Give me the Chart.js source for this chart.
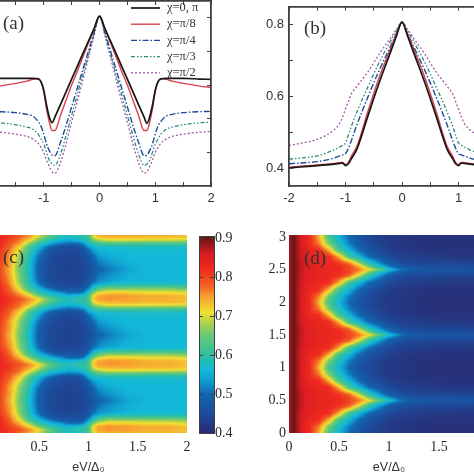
<!DOCTYPE html>
<html>
<head>
<meta charset="utf-8">
<title>Conductance spectra</title>
<script src="https://cdn.jsdelivr.net/npm/chart.js@4"></script>
<style>
  html, body { margin: 0; padding: 0; background: #fff; width: 474px; height: 474px; overflow: hidden; }
  canvas { position: absolute; }
</style>
</head>
<body>
<canvas id="chartA"></canvas>
<canvas id="chartB"></canvas>
<canvas id="chartC"></canvas>
<canvas id="chartBar"></canvas>
<canvas id="chartD"></canvas>
<script>
// Line panels: bias values shared by all curves
const biasA = [-2,-1.8,-1.5,-1.3,-1.2,-1.1,-1.05,-1,-0.95,-0.9,-0.85,-0.8,-0.7,-0.6,-0.5,-0.4,-0.3,-0.2,-0.1,0,
  0.1,0.2,0.3,0.4,0.5,0.6,0.7,0.8,0.85,0.9,0.95,1,1.05,1.1,1.2,1.3,1.5,1.8,2];
const biasB = [-2,-1.8,-1.5,-1.2,-1.1,-1.05,-1,-0.95,-0.9,-0.8,-0.6,-0.4,-0.2,-0.1,0,
  0.1,0.2,0.4,0.6,0.8,0.9,0.95,1,1.05,1.1,1.2,1.5,1.8,2];
const seriesNames = ['χ=0, π', 'χ=π/8', 'χ=π/4', 'χ=π/3', 'χ=π/2'];

// Tick positions
const biasTicks = [-2,-1.5,-1,-0.5,0,0.5,1,1.5,2];
const lineTicksA = [0.4,0.5,0.6,0.7,0.8];
const lineTicksB = [0.4,0.5,0.6,0.7,0.8];
const mapTicksX = [0,0.5,1,1.5,2];
const mapTicksY = [0,0.5,1,1.5,2,2.5,3];
const barTicks = [0.4,0.5,0.6,0.7,0.8,0.9];

const a0 = [0.62,0.62,0.62,0.62,0.62,0.618,0.61,0.585,0.54,0.505,0.488,0.505,0.542,0.58,0.618,0.655,0.693,0.73,0.767,0.805,
  0.767,0.73,0.693,0.655,0.618,0.58,0.542,0.505,0.486,0.505,0.54,0.585,0.61,0.618,0.62,0.62,0.62,0.618,0.617];
const a8 = [0.593,0.597,0.605,0.612,0.617,0.62,0.61,0.58,0.53,0.49,0.465,0.465,0.51,0.555,0.6,0.64,0.683,0.725,0.765,0.805,
  0.765,0.725,0.683,0.64,0.6,0.555,0.51,0.465,0.465,0.49,0.53,0.58,0.61,0.62,0.617,0.612,0.605,0.597,0.593];
const a4 = [0.522,0.521,0.518,0.513,0.508,0.492,0.478,0.455,0.425,0.405,0.392,0.39,0.43,0.48,0.535,0.59,0.645,0.7,0.755,0.805,
  0.755,0.7,0.645,0.59,0.535,0.48,0.43,0.39,0.392,0.405,0.425,0.455,0.478,0.492,0.508,0.513,0.518,0.521,0.522];
const a3 = [0.49,0.488,0.482,0.475,0.469,0.454,0.44,0.425,0.4,0.377,0.365,0.361,0.395,0.45,0.51,0.57,0.63,0.69,0.75,0.805,
  0.75,0.69,0.63,0.57,0.51,0.45,0.395,0.361,0.365,0.377,0.4,0.425,0.44,0.454,0.469,0.475,0.482,0.488,0.49];
const a2 = [0.462,0.46,0.454,0.447,0.44,0.427,0.415,0.4,0.377,0.358,0.342,0.338,0.37,0.425,0.49,0.55,0.615,0.68,0.745,0.805,
  0.745,0.68,0.615,0.55,0.49,0.425,0.37,0.338,0.342,0.358,0.377,0.4,0.415,0.427,0.44,0.447,0.454,0.46,0.462];

const b0 = [0.4,0.403,0.407,0.411,0.413,0.414,0.407,0.412,0.425,0.452,0.547,0.64,0.725,0.768,0.807,
  0.768,0.725,0.64,0.547,0.452,0.425,0.412,0.407,0.414,0.413,0.411,0.407,0.403,0.4];
const b8 = [0.402,0.405,0.409,0.413,0.415,0.416,0.41,0.416,0.432,0.46,0.56,0.655,0.735,0.773,0.807,
  0.773,0.735,0.655,0.56,0.46,0.432,0.416,0.41,0.416,0.415,0.413,0.409,0.405,0.402];
const b4 = [0.412,0.414,0.418,0.428,0.434,0.437,0.44,0.455,0.475,0.52,0.6,0.674,0.741,0.775,0.807,
  0.775,0.741,0.674,0.6,0.52,0.475,0.455,0.44,0.437,0.434,0.428,0.418,0.414,0.412];
const b3 = [0.425,0.428,0.434,0.451,0.459,0.464,0.47,0.492,0.515,0.556,0.628,0.696,0.755,0.782,0.807,
  0.782,0.755,0.696,0.628,0.556,0.515,0.492,0.47,0.464,0.459,0.451,0.434,0.428,0.425];
const b2 = [0.463,0.469,0.48,0.507,0.525,0.543,0.565,0.585,0.606,0.628,0.669,0.719,0.764,0.786,0.807,
  0.786,0.764,0.719,0.669,0.628,0.606,0.585,0.565,0.543,0.525,0.507,0.48,0.469,0.463];

// Color bar levels and the color stops used by both maps
const barLevels = [0.4,0.5,0.6,0.7,0.8,0.905];
const colorLevels = [0.4,0.45,0.5,0.53,0.56,0.6,0.65,0.68,0.71,0.75,0.78,0.82,0.86,0.905];
const colorStops = ['#2a2a72','#1c4c9c','#1068b0','#1094cc','#12b8d8','#2fc0a0','#66c878','#a8d050','#f0e030',
  '#f8a030','#f06020','#f02a20','#d81c20','#5c1418'];

// Map (c): one period of rows, every row sampled at columnsC
const columnsC = [0,0.1,0.2,0.3,0.4,0.5,0.6,0.7,0.8,0.9,0.95,1,1.05,1.1,1.2,1.4,1.6,1.8,2];
const periodC = [
  [0.85,0.83,0.81,0.78,0.75,0.69,0.63,0.59,0.57,0.585,0.595,0.62,0.7,0.73,0.74,0.74,0.735,0.735,0.73],
  [0.85,0.83,0.81,0.79,0.76,0.71,0.65,0.6,0.58,0.6,0.6,0.62,0.72,0.75,0.755,0.75,0.74,0.74,0.73],
  [0.85,0.83,0.8,0.77,0.72,0.65,0.6,0.57,0.56,0.57,0.58,0.62,0.71,0.745,0.755,0.75,0.74,0.74,0.73],
  [0.85,0.83,0.79,0.74,0.67,0.6,0.56,0.54,0.5,0.5,0.52,0.58,0.66,0.7,0.72,0.72,0.71,0.71,0.7],
  [0.85,0.82,0.78,0.71,0.62,0.56,0.52,0.47,0.47,0.47,0.48,0.53,0.6,0.64,0.67,0.67,0.67,0.67,0.66],
  [0.85,0.82,0.77,0.69,0.6,0.53,0.47,0.45,0.45,0.45,0.46,0.49,0.55,0.58,0.61,0.61,0.61,0.61,0.605],
  [0.85,0.81,0.76,0.67,0.585,0.5,0.455,0.445,0.44,0.445,0.45,0.47,0.51,0.53,0.55,0.565,0.565,0.565,0.565],
  [0.84,0.805,0.755,0.665,0.58,0.49,0.45,0.44,0.438,0.44,0.447,0.465,0.49,0.52,0.535,0.555,0.56,0.56,0.56],
  [0.84,0.8,0.75,0.66,0.575,0.485,0.447,0.44,0.435,0.44,0.445,0.46,0.48,0.51,0.53,0.555,0.56,0.56,0.56],
  [0.84,0.8,0.745,0.655,0.57,0.48,0.445,0.44,0.435,0.44,0.445,0.455,0.475,0.5,0.52,0.55,0.56,0.56,0.56],
  [0.84,0.8,0.74,0.65,0.57,0.48,0.445,0.44,0.435,0.44,0.445,0.45,0.47,0.49,0.51,0.545,0.56,0.56,0.56],
  [0.84,0.8,0.745,0.655,0.57,0.48,0.445,0.44,0.435,0.44,0.445,0.455,0.475,0.5,0.52,0.55,0.56,0.56,0.56],
  [0.84,0.8,0.75,0.66,0.575,0.485,0.447,0.44,0.435,0.44,0.445,0.46,0.48,0.51,0.53,0.555,0.56,0.56,0.56],
  [0.845,0.805,0.75,0.665,0.58,0.49,0.45,0.44,0.438,0.44,0.447,0.465,0.49,0.52,0.54,0.557,0.56,0.56,0.56],
  [0.85,0.81,0.75,0.67,0.585,0.5,0.455,0.445,0.44,0.445,0.45,0.47,0.5,0.53,0.55,0.56,0.56,0.56,0.56],
  [0.85,0.81,0.76,0.685,0.6,0.52,0.46,0.447,0.442,0.447,0.455,0.485,0.52,0.545,0.555,0.562,0.562,0.562,0.562],
  [0.85,0.81,0.77,0.7,0.61,0.535,0.47,0.45,0.445,0.45,0.46,0.5,0.54,0.555,0.56,0.565,0.565,0.565,0.565],
  [0.85,0.82,0.78,0.72,0.63,0.56,0.5,0.46,0.45,0.46,0.485,0.54,0.56,0.57,0.575,0.575,0.575,0.575,0.575],
  [0.85,0.82,0.79,0.75,0.67,0.6,0.55,0.52,0.5,0.51,0.53,0.57,0.6,0.62,0.63,0.63,0.625,0.625,0.625],
  [0.85,0.83,0.8,0.77,0.72,0.65,0.59,0.56,0.55,0.56,0.57,0.6,0.66,0.68,0.7,0.7,0.695,0.695,0.69]
];
const rowsC = [...periodC, ...periodC, ...periodC, periodC[0], periodC[1]];
const rowStepsC = rowsC.map((row, i) => i * 0.05);

// Map (d): one period of rows, every row sampled at columnsD
const columnsD = [0,0.05,0.1,0.2,0.3,0.4,0.5,0.6,0.7,0.8,0.9,1,1.1,1.2,1.4,1.6,2];
const periodD = [
  [0.88,0.9,0.87,0.825,0.74,0.62,0.56,0.5,0.465,0.445,0.43,0.42,0.42,0.415,0.41,0.41,0.41],
  [0.88,0.9,0.87,0.825,0.765,0.656,0.578,0.518,0.475,0.45,0.435,0.425,0.42,0.415,0.41,0.41,0.41],
  [0.88,0.9,0.87,0.83,0.82,0.74,0.62,0.56,0.5,0.465,0.445,0.43,0.425,0.42,0.415,0.413,0.413],
  [0.88,0.9,0.87,0.84,0.83,0.82,0.74,0.62,0.56,0.5,0.47,0.445,0.435,0.43,0.425,0.42,0.42],
  [0.88,0.9,0.875,0.845,0.835,0.83,0.81,0.77,0.68,0.59,0.53,0.48,0.455,0.445,0.44,0.44,0.435],
  [0.88,0.9,0.875,0.845,0.835,0.83,0.82,0.8,0.74,0.65,0.575,0.515,0.48,0.46,0.455,0.455,0.45],
  [0.88,0.9,0.875,0.845,0.835,0.83,0.825,0.8,0.77,0.715,0.65,0.575,0.52,0.485,0.465,0.465,0.46],
  [0.88,0.9,0.875,0.845,0.835,0.83,0.82,0.8,0.74,0.65,0.575,0.515,0.48,0.46,0.455,0.455,0.45],
  [0.88,0.9,0.875,0.845,0.835,0.83,0.81,0.77,0.68,0.59,0.53,0.48,0.455,0.445,0.44,0.44,0.435],
  [0.88,0.9,0.87,0.84,0.83,0.82,0.74,0.62,0.56,0.5,0.47,0.445,0.435,0.43,0.425,0.42,0.42],
  [0.88,0.9,0.87,0.83,0.82,0.74,0.62,0.56,0.5,0.465,0.445,0.43,0.425,0.42,0.415,0.413,0.413],
  [0.88,0.9,0.87,0.825,0.765,0.656,0.578,0.518,0.475,0.45,0.435,0.425,0.42,0.415,0.41,0.41,0.41]
];
const periodStepsD = [0,0.1,0.2,0.3,0.4,0.45,0.5,0.55,0.6,0.7,0.8,0.9];
const rowsD = [...periodD, ...periodD, ...periodD, periodD[0]];
const rowStepsD = [...periodStepsD, ...periodStepsD.map(t => t + 1), ...periodStepsD.map(t => t + 2), 3];

function hexToRgb(hex) {
  return [1, 3, 5].map(i => parseInt(hex.slice(i, i + 2), 16));
}
const stopRgb = colorStops.map(hexToRgb);

function colorFor(v) {
  let i = 0;
  while (i < colorLevels.length - 2 && v > colorLevels[i + 1]) i++;
  const t = Math.min(1, Math.max(0, (v - colorLevels[i]) / (colorLevels[i + 1] - colorLevels[i])));
  return stopRgb[i].map((c, k) => c + (stopRgb[i + 1][k] - c) * t);
}

// index and fraction of v inside a sorted list
function locate(list, v) {
  let i = 0;
  while (i < list.length - 2 && v > list[i + 1]) i++;
  const t = (v - list[i]) / (list[i + 1] - list[i]);
  return [i, Math.min(1, Math.max(0, t))];
}

// Paints a value grid into the plot area, going through the chart's scales per pixel
const heatPlugin = {
  id: 'heat',
  beforeDatasetsDraw(chart, args, opts) {
    if (!opts.rows) return;
    const area = chart.chartArea;
    const left = Math.round(area.left), top = Math.round(area.top);
    const w = Math.round(area.right) - left, h = Math.round(area.bottom) - top;
    const img = chart.ctx.createImageData(w, h);
    for (let py = 0; py < h; py++) {
      const [r, rt] = locate(opts.ys, chart.scales.y.getValueForPixel(top + py + 0.5));
      for (let px = 0; px < w; px++) {
        const [c, ct] = locate(opts.xs, chart.scales.x.getValueForPixel(left + px + 0.5));
        const low = opts.rows[r][c] + (opts.rows[r][c + 1] - opts.rows[r][c]) * ct;
        const high = opts.rows[r + 1][c] + (opts.rows[r + 1][c + 1] - opts.rows[r + 1][c]) * ct;
        const rgb = colorFor(low + (high - low) * rt);
        const o = (py * w + px) * 4;
        img.data[o] = rgb[0];
        img.data[o + 1] = rgb[1];
        img.data[o + 2] = rgb[2];
        img.data[o + 3] = 255;
      }
    }
    chart.ctx.putImageData(img, left, top);
  }
};

// Panel letters and the legend inside panel (a)
const notesPlugin = {
  id: 'notes',
  afterDraw(chart, args, opts) {
    const ctx = chart.ctx;
    const area = chart.chartArea;
    ctx.save();
    ctx.textBaseline = 'middle';
    ctx.fillStyle = '#333';
    if (opts.letter) {
      ctx.font = '19px "Liberation Serif"';
      ctx.fillText(opts.letter, area.left + opts.letterX, area.top + opts.letterY);
    }
    if (opts.legend) {
      chart.data.datasets.forEach((ds, i) => {
        const y = area.top + opts.legendTop + i * opts.legendGap;
        ctx.beginPath();
        ctx.setLineDash(ds.borderDash || []);
        ctx.strokeStyle = ds.borderColor;
        ctx.lineWidth = ds.borderWidth;
        ctx.moveTo(area.left + opts.legendX, y);
        ctx.lineTo(area.left + opts.legendX + 29, y);
        ctx.stroke();
        ctx.font = '12.5px "Liberation Serif"';
        ctx.fillStyle = '#333';
        ctx.fillText(ds.label, area.left + opts.legendX + 36, y);
      });
    }
    ctx.restore();
  }
};
Chart.register(heatPlugin, notesPlugin);

const M = { left: 60, right: 30, top: 12, bottom: 50 };
const FRAME = '#3f3f3f';

function axis(position, min, max, tickList, o) {
  const horizontal = position === 'top' || position === 'bottom';
  const size = { left: M.left, right: M.right, top: M.top, bottom: M.bottom }[position];
  return Object.assign({
    type: 'linear',
    position: position,
    min: min,
    max: max,
    bounds: 'data',
    border: { display: o.frame !== false, color: FRAME, width: o.frameWidth || 1.8, z: 2 },
    grid: {
      drawOnChartArea: false,
      drawTicks: !!o.tickMarks,
      color: FRAME,
      lineWidth: 1,
      tickLength: -4,
      z: 1
    },
    ticks: {
      display: !!o.labels,
      autoSkip: false,
      maxRotation: 0,
      padding: o.padding || 0,
      color: o.color || '#333',
      font: o.font,
      callback: o.labels
    },
    afterBuildTicks(scale) {
      scale.ticks = tickList.map(v => ({ value: v }));
    },
    afterFit(scale) {
      if (horizontal) scale.height = size; else scale.width = size;
    }
  }, o.title ? { title: o.title } : {});
}

const SANS = { family: '"Liberation Sans"', size: 13 };
const SERIF = { family: '"Liberation Serif"', size: 14 };

function place(id, plot) {
  const el = document.getElementById(id);
  el.width = plot.w + M.left + M.right;
  el.height = plot.h + M.top + M.bottom;
  el.style.left = (plot.x - M.left) + 'px';
  el.style.top = (plot.y - M.top) + 'px';
  return el;
}

function curve(label, xs, ys, color, width, dash) {
  return {
    label: label,
    data: xs.map((x, i) => ({ x: x, y: ys[i] })),
    borderColor: color,
    borderWidth: width,
    borderDash: dash,
    pointRadius: 0,
    cubicInterpolationMode: 'monotone',
    fill: false
  };
}

const styleList = [
  ['#161616', 1.7, []],
  ['#d8404a', 1.4, []],
  ['#1f4a9a', 1.4, [6, 2, 1.5, 2]],
  ['#2e8a78', 1.3, [4, 2, 1.5, 2, 1.5, 2]],
  ['#a458a8', 1.3, [2, 2]]
];

function lineChart(id, plot, xs, series, yRange, yTicks, xLabels, notes, leftLabels) {
  return new Chart(place(id, plot), {
    type: 'line',
    data: {
      datasets: series.map((ys, i) => curve(seriesNames[i], xs, ys, styleList[i][0], styleList[i][1], styleList[i][2]))
    },
    options: {
      responsive: false,
      animation: false,
      events: [],
      layout: { padding: 0 },
      plugins: { legend: { display: false }, tooltip: { enabled: false }, notes: notes },
      scales: {
        x: axis('bottom', -2, 2, biasTicks, { tickMarks: true, labels: xLabels, font: SANS, padding: 9 }),
        xTop: axis('top', -2, 2, biasTicks, { tickMarks: true }),
        y: axis('left', yRange[0], yRange[1], yTicks, { tickMarks: true, labels: leftLabels, font: SANS, padding: 9 }),
        yRight: axis('right', yRange[0], yRange[1], yTicks, { tickMarks: true })
      }
    }
  });
}

function mapChart(id, plot, heat, notes, yLabels) {
  const labelValue = v => String(v);
  return new Chart(place(id, plot), {
    type: 'scatter',
    data: { datasets: [] },
    options: {
      responsive: false,
      animation: false,
      events: [],
      layout: { padding: 0 },
      plugins: { legend: { display: false }, tooltip: { enabled: false }, notes: notes, heat: heat },
      scales: {
        x: axis('bottom', 0, 2, mapTicksX, { frame: false, labels: labelValue, font: SERIF, padding: 6, color: '#2a2a2a',
          title: { display: true, text: 'eV/Δ₀', color: '#333', font: { family: '"Liberation Sans"', size: 12.5 }, padding: { top: 0, bottom: 8 } } }),
        xTop: axis('top', 0, 2, mapTicksX, { frame: false }),
        y: axis('left', 0, 3.03, mapTicksY, { frame: false, labels: yLabels ? labelValue : null, font: SERIF, padding: 3, color: '#2a2a2a' }),
        yRight: axis('right', 0, 3.03, mapTicksY, { frame: false })
      }
    }
  });
}

const intLabel = v => Number.isInteger(v) ? String(v) : '';
const evenTenth = v => Math.round(v * 10) % 2 === 0 ? v.toFixed(1) : '';

lineChart('chartA', { x: -12, y: 1, w: 223, h: 185 }, biasA, [a0, a8, a4, a3, a2], [0.3, 0.85], lineTicksA, intLabel,
  { letter: '(a)', letterX: 15, letterY: 23, legend: true, legendX: 143, legendTop: 7, legendGap: 16.2 }, null);

lineChart('chartB', { x: 289, y: 2, w: 226, h: 184 }, biasB, [b0, b8, b4, b3, b2], [0.35, 0.85], lineTicksB, intLabel,
  { letter: '(b)', letterX: 15, letterY: 22 }, evenTenth);

mapChart('chartC', { x: -10, y: 235, w: 197, h: 198 },
  { xs: columnsC, ys: rowStepsC, rows: rowsC }, { letter: '(c)', letterX: 13, letterY: 23 }, false);

mapChart('chartD', { x: 289, y: 235, w: 200, h: 198 },
  { xs: columnsD, ys: rowStepsD, rows: rowsD }, { letter: '(d)', letterX: 15, letterY: 24 }, true);

// Color bar: a one-column map over the same color levels
new Chart(place('chartBar', { x: 199, y: 235, w: 15, h: 198 }), {
  type: 'scatter',
  data: { datasets: [] },
  options: {
    responsive: false,
    animation: false,
    events: [],
    layout: { padding: 0 },
    plugins: {
      legend: { display: false },
      tooltip: { enabled: false },
      heat: { xs: [0, 1], ys: barLevels, rows: barLevels.map(v => [v, v]) }
    },
    scales: {
      x: axis('bottom', 0, 1, [], { frameWidth: 1 }),
      xTop: axis('top', 0, 1, [], { frameWidth: 1 }),
      y: axis('left', 0.4, 0.905, barTicks, { tickMarks: true, frameWidth: 1 }),
      yRight: axis('right', 0.4, 0.905, barTicks, { tickMarks: true, frameWidth: 1, labels: v => v.toFixed(1), font: SERIF, padding: 5, color: '#2a2a2a' })
    }
  }
});
</script>
</body>
</html>
